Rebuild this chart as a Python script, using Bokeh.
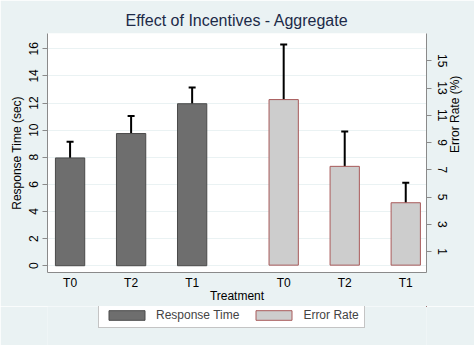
import math
from bokeh.plotting import figure
from bokeh.layouts import column
from bokeh.models import (ColumnDataSource, Range1d, LinearAxis, FixedTicker, Whisker,
                          TeeHead, Legend, LegendItem)
from bokeh.embed import file_html
from bokeh.resources import INLINE

# ---- data ----
categories = ["T0", "T2", "T1"]
response_time = [7.95, 9.75, 11.95]
rt_lower = [6.75, 8.5, 10.9]
rt_upper = [9.15, 11.05, 13.15]
error_rate = [12.15, 7.25, 4.58]
er_lower = [8.15, 4.7, 3.15]
er_upper = [16.2, 9.8, 6.05]
left_ticks = [0, 2, 4, 6, 8, 10, 12, 14, 16]
right_ticks = [1, 3, 5, 7, 9, 11, 13, 15]
series_names = ["Response Time", "Error Rate"]

FONT = "Liberation Sans"
BG = "#EAF2F3"
RT_STYLE = dict(fill_color="#6e6e6e", line_color="#4a4a4a", line_width=1)
ER_STYLE = dict(fill_color="#cdcdcd", line_color="#a85a5a", line_width=1)

# group positions
x_rt = [1 + i for i in range(len(categories))]
x_er = [x_rt[-1] + 1.5 + i for i in range(len(categories))]

src_rt = ColumnDataSource(dict(x=x_rt, top=response_time, lo=rt_lower, hi=rt_upper))
src_er = ColumnDataSource(dict(x=x_er, top=error_rate, lo=er_lower, hi=er_upper))

p = figure(frame_width=379, frame_height=239, output_backend="svg", toolbar_location=None,
           x_range=Range1d(0.63, 6.84), y_range=Range1d(-0.5, 17.13),
           min_border_left=47, min_border_right=48, min_border_top=33, min_border_bottom=34,
           title="Effect of Incentives - Aggregate")
p.extra_y_ranges = {"err": Range1d(-0.54, 17.0)}

p.background_fill_color = "white"
p.border_fill_color = BG
p.outline_line_color = None

p.title.align = "center"
p.title.text_font = FONT
p.title.text_font_size = "16px"
p.title.text_font_style = "normal"
p.title.text_color = "#1c2a48"

p.vbar(x="x", top="top", width=0.48, source=src_rt, **RT_STYLE)
p.vbar(x="x", top="top", width=0.48, source=src_er, y_range_name="err", **ER_STYLE)

head = dict(size=7, line_color="black", line_width=2)
p.add_layout(Whisker(source=src_rt, base="x", upper="hi", lower="lo",
                     line_color="black", line_width=2,
                     upper_head=TeeHead(**head), lower_head=TeeHead(**head)))
p.add_layout(Whisker(source=src_er, base="x", upper="hi", lower="lo", y_range_name="err",
                     line_color="black", line_width=2,
                     upper_head=TeeHead(**head), lower_head=TeeHead(**head)))

# x axis
xa = p.xaxis[0]
xa.ticker = FixedTicker(ticks=x_rt + x_er)
overrides = {}
for v, c in zip(x_rt + x_er, categories + categories):
    overrides[float(v)] = c
    if float(v).is_integer():
        overrides[int(v)] = c
xa.major_label_overrides = overrides
xa.axis_label = "Treatment"

# left axis
ya = p.yaxis[0]
ya.ticker = FixedTicker(ticks=left_ticks)
ya.axis_label = "Response Time (sec)"
ya.major_label_orientation = "vertical"

# right axis
ra = LinearAxis(y_range_name="err", ticker=FixedTicker(ticks=right_ticks),
                axis_label="Error Rate (%)")
ra.major_label_orientation = "vertical"
ra.axis_label_orientation = math.pi / 2
p.add_layout(ra, "right")

for ax in [xa, ya, ra]:
    ax.axis_line_color = "#8a8a8a"
    ax.major_tick_line_color = "#8a8a8a"
    ax.minor_tick_line_color = None
    ax.major_tick_out = 5
    ax.major_tick_in = 0
    ax.major_label_text_font = FONT
    ax.major_label_text_font_size = "12px"
    ax.major_label_text_color = "black"
    ax.axis_label_text_font = FONT
    ax.axis_label_text_font_size = "12px"
    ax.axis_label_text_font_style = "normal"
    ax.axis_label_text_color = "black"
    ax.major_label_standoff = 4
    ax.axis_label_standoff = 3

xa.major_tick_line_color = None
xa.major_tick_out = 0
xa.major_label_standoff = 3
xa.axis_label_standoff = -4
ra.major_label_standoff = 6
ra.axis_label_standoff = 5

p.xgrid.grid_line_color = None
p.ygrid.grid_line_color = BG
p.ygrid.grid_line_width = 1.2
p.ygrid.ticker = FixedTicker(ticks=left_ticks)

# ---- legend strip below the chart (its renderers lie outside its visible range) ----
main_h = 33 + 239 + 34
lg = figure(width=474, height=345 - main_h, output_backend="svg", toolbar_location=None,
            x_range=Range1d(-20, -19), y_range=Range1d(-20, -19), min_border=0)
lg.axis.visible = False
lg.grid.visible = False
lg.outline_line_color = None
lg.background_fill_color = BG
lg.border_fill_color = BG
sw_rt = lg.vbar(x="x", top="top", width=0.48, source=src_rt, **RT_STYLE)
sw_er = lg.vbar(x="x", top="top", width=0.48, source=src_er, **ER_STYLE)

legend = Legend(items=[LegendItem(label=series_names[0], renderers=[sw_rt]),
                       LegendItem(label=series_names[1], renderers=[sw_er])],
                orientation="horizontal", location=(51, 17),
                glyph_width=45, glyph_height=12, label_standoff=7, spacing=12,
                padding=5, margin=0,
                label_text_font=FONT, label_text_font_size="12px",
                border_line_color="#8a8a8a", background_fill_color="white",
                background_fill_alpha=1)
lg.add_layout(legend, "center")

layout = column(p, lg, spacing=0)
open("out.html", "w").write(file_html(layout, INLINE))
